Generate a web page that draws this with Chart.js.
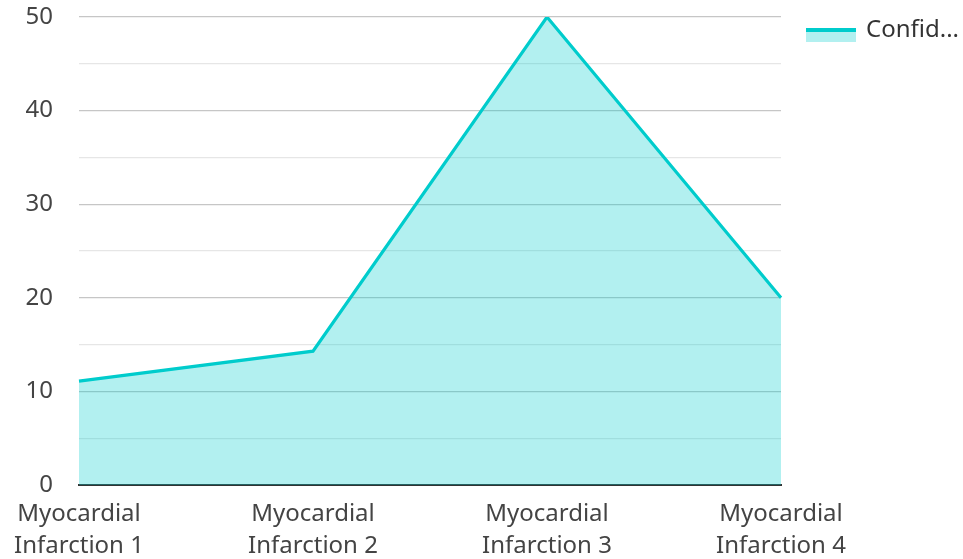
<!DOCTYPE html>
<html>
<head>
<meta charset="utf-8">
<script src="https://cdn.jsdelivr.net/npm/chart.js@4/dist/chart.umd.min.js"></script>
<style>
  html, body { margin: 0; padding: 0; background: #fff; }
  #wrap { width: 963px; height: 559px; position: relative; }
</style>
</head>
<body>
<div id="wrap"><canvas id="c"></canvas></div>
<script>
const categories = [
  ['Myocardial', 'Infarction 1'],
  ['Myocardial', 'Infarction 2'],
  ['Myocardial', 'Infarction 3'],
  ['Myocardial', 'Infarction 4']
];
const seriesName = 'Confid...';
const seriesValues = [11.1, 14.3, 50, 20];
const yTicks = [0, 10, 20, 30, 40, 50];

const LINE = '#00cccc';
const FILL = 'rgba(0, 204, 204, 0.3)';
const FONT = '"Noto Sans", "Open Sans", sans-serif';

// Legend drawn on the canvas: a thick line over a pale band, then the label
const legendPlugin = {
  id: 'areaLegend',
  afterDraw(chart) {
    const ctx = chart.ctx;
    const x = 806, y = 30, w = 50;
    ctx.save();
    ctx.fillStyle = FILL;
    ctx.fillRect(x, y, w, 12);
    ctx.fillStyle = LINE;
    ctx.fillRect(x, y - 2, w, 4);
    ctx.fillStyle = '#333';
    ctx.font = '24px ' + FONT;
    ctx.textBaseline = 'middle';
    ctx.fillText(seriesName, x + 60, y);
    ctx.restore();
  }
};

new Chart(document.getElementById('c'), {
  type: 'line',
  data: {
    labels: categories,
    datasets: [{
      label: seriesName,
      data: seriesValues,
      borderColor: LINE,
      backgroundColor: FILL,
      borderWidth: 3.2,
      fill: 'origin',
      tension: 0,
      pointRadius: 0,
      pointHoverRadius: 0
    }]
  },
  options: {
    responsive: true,
    maintainAspectRatio: false,
    animation: false,
    layout: { padding: { left: 0, right: 182, top: 0, bottom: 0 } },
    plugins: {
      legend: { display: false },
      tooltip: { enabled: false }
    },
    scales: {
      x: {
        offset: false,
        border: { display: true, color: '#333', width: 2 },
        grid: { display: false, drawTicks: false },
        afterFit: (scale) => { scale.height = 74; },
        ticks: {
          color: '#444',
          font: { family: FONT, size: 24, lineHeight: 1.3 },
          maxRotation: 0,
          autoSkip: false,
          padding: 14
        }
      },
      y: {
        min: 0,
        max: 50,
        border: { display: false },
        afterFit: (scale) => { scale.width = 79; },
        grid: {
          color: (c) => (c.tick && c.tick.value % 10 === 0) ? '#c6c6c6' : '#e6e6e6',
          lineWidth: 1.2,
          drawTicks: true,
          tickLength: 26,
          tickColor: 'rgba(0,0,0,0)'
        },
        ticks: {
          stepSize: 5,
          color: '#444',
          font: { family: FONT, size: 24, lineHeight: 1.42 },
          padding: 0,
          callback: (v) => yTicks.includes(v) ? String(v) : ''
        }
      }
    }
  },
  plugins: [legendPlugin]
});
</script>
</body>
</html>
